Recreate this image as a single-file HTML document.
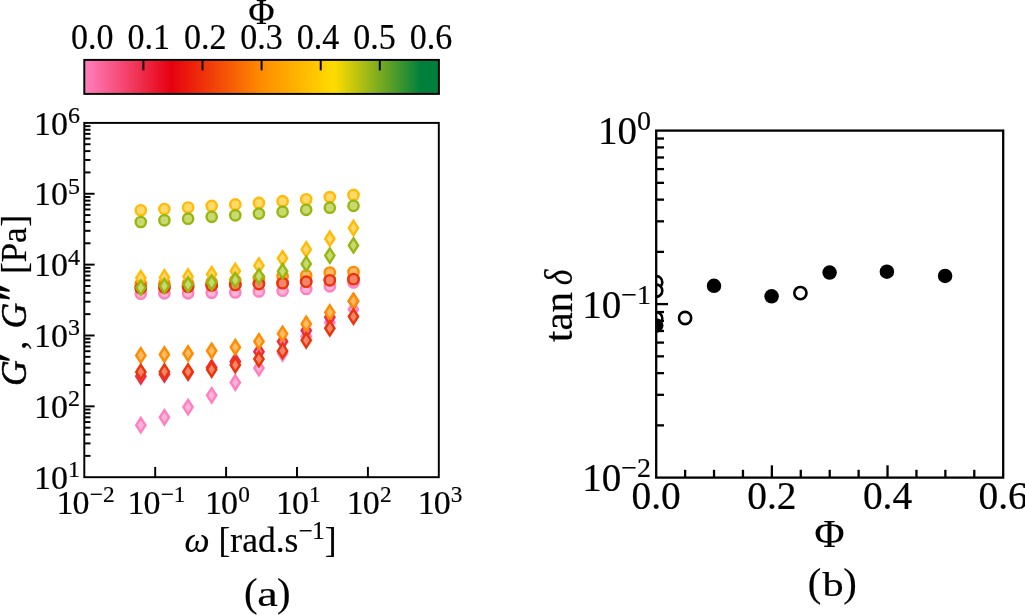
<!DOCTYPE html>
<html lang="en"><head><meta charset="utf-8"><title>Figure</title>
<style>html,body{margin:0;padding:0;background:#fff;overflow:hidden}svg{display:block}text{font-family:"Liberation Serif", "DejaVu Serif", serif;fill:#000;stroke:#000;stroke-width:0.2px}</style>
</head><body>
<svg width="1025" height="615" viewBox="0 0 1025 615">
<rect width="1025" height="615" fill="#fff"/>
<defs><linearGradient id="cm" x1="0" y1="0" x2="1" y2="0">
<stop offset="0" stop-color="#ff80c0"/>
<stop offset="0.245" stop-color="#e6000f"/>
<stop offset="0.5" stop-color="#ff8c00"/>
<stop offset="0.705" stop-color="#ffdc00"/>
<stop offset="0.95" stop-color="#007f3c"/>
<stop offset="1" stop-color="#007f3c"/>
</linearGradient>
<clipPath id="rc"><rect x="656.2" y="130.6" width="347" height="347"/></clipPath>
</defs>
<rect x="84.3" y="59.9" width="354.6" height="34" fill="url(#cm)" stroke="#000" stroke-width="1.95"/>
<text transform="translate(92.25,48.7) scale(0.975,1)" font-size="34.9" text-anchor="middle">0.0</text>
<line x1="143.40" y1="59.9" x2="143.40" y2="70.4" stroke="#000" stroke-width="1.95"/>
<text transform="translate(148.70,48.7) scale(0.975,1)" font-size="34.9" text-anchor="middle">0.1</text>
<line x1="202.50" y1="59.9" x2="202.50" y2="70.4" stroke="#000" stroke-width="1.95"/>
<text transform="translate(205.15,48.7) scale(0.975,1)" font-size="34.9" text-anchor="middle">0.2</text>
<line x1="261.60" y1="59.9" x2="261.60" y2="70.4" stroke="#000" stroke-width="1.95"/>
<text transform="translate(261.60,48.7) scale(0.975,1)" font-size="34.9" text-anchor="middle">0.3</text>
<line x1="320.70" y1="59.9" x2="320.70" y2="70.4" stroke="#000" stroke-width="1.95"/>
<text transform="translate(318.05,48.7) scale(0.975,1)" font-size="34.9" text-anchor="middle">0.4</text>
<line x1="379.80" y1="59.9" x2="379.80" y2="70.4" stroke="#000" stroke-width="1.95"/>
<text transform="translate(374.50,48.7) scale(0.975,1)" font-size="34.9" text-anchor="middle">0.5</text>
<text transform="translate(430.95,48.7) scale(0.975,1)" font-size="34.9" text-anchor="middle">0.6</text>
<text x="261.6" y="23.7" font-size="35.5" text-anchor="middle">Φ</text>
<g fill="#ffb3d9" stroke="#ff80c0" stroke-width="2.4" stroke-linejoin="miter">
<circle cx="140.8" cy="293.7" r="5.15"/>
<circle cx="164.4" cy="293.3" r="5.15"/>
<circle cx="188.1" cy="293.3" r="5.15"/>
<circle cx="211.7" cy="292.8" r="5.15"/>
<circle cx="235.3" cy="292.5" r="5.15"/>
<circle cx="258.9" cy="291.4" r="5.15"/>
<circle cx="282.6" cy="290.7" r="5.15"/>
<circle cx="306.2" cy="288.9" r="5.15"/>
<circle cx="329.8" cy="286.3" r="5.15"/>
<circle cx="353.5" cy="282.4" r="5.15"/>
<path d="M140.8 418.0L145.5 425.2L140.8 432.4L136.2 425.2Z"/>
<path d="M164.4 410.1L169.1 417.3L164.4 424.5L159.8 417.3Z"/>
<path d="M188.1 399.9L192.7 407.1L188.1 414.3L183.4 407.1Z"/>
<path d="M211.7 388.1L216.3 395.3L211.7 402.5L207.0 395.3Z"/>
<path d="M235.3 375.3L240.0 382.5L235.3 389.7L230.7 382.5Z"/>
<path d="M258.9 360.8L263.6 368.0L258.9 375.2L254.3 368.0Z"/>
<path d="M282.6 346.1L287.2 353.3L282.6 360.5L277.9 353.3Z"/>
<path d="M306.2 329.1L310.9 336.3L306.2 343.5L301.6 336.3Z"/>
<path d="M329.8 315.2L334.5 322.4L329.8 329.6L325.2 322.4Z"/>
<path d="M353.5 302.1L358.1 309.3L353.5 316.5L348.8 309.3Z"/>
</g>
<g fill="#f5808f" stroke="#ee2b4c" stroke-width="2.4" stroke-linejoin="miter">
<circle cx="140.8" cy="287.6" r="5.15"/>
<circle cx="164.4" cy="287.0" r="5.15"/>
<circle cx="188.1" cy="286.2" r="5.15"/>
<circle cx="211.7" cy="285.0" r="5.15"/>
<circle cx="235.3" cy="284.3" r="5.15"/>
<circle cx="258.9" cy="283.6" r="5.15"/>
<circle cx="282.6" cy="282.7" r="5.15"/>
<circle cx="306.2" cy="281.2" r="5.15"/>
<circle cx="329.8" cy="279.8" r="5.15"/>
<circle cx="353.5" cy="278.7" r="5.15"/>
<path d="M140.8 369.1L145.5 376.3L140.8 383.5L136.2 376.3Z"/>
<path d="M164.4 367.1L169.1 374.3L164.4 381.5L159.8 374.3Z"/>
<path d="M188.1 365.3L192.7 372.5L188.1 379.7L183.4 372.5Z"/>
<path d="M211.7 360.3L216.3 367.5L211.7 374.7L207.0 367.5Z"/>
<path d="M235.3 354.3L240.0 361.5L235.3 368.7L230.7 361.5Z"/>
<path d="M258.9 344.5L263.6 351.7L258.9 358.9L254.3 351.7Z"/>
<path d="M282.6 334.2L287.2 341.4L282.6 348.6L277.9 341.4Z"/>
<path d="M306.2 323.3L310.9 330.5L306.2 337.7L301.6 330.5Z"/>
<path d="M329.8 310.1L334.5 317.3L329.8 324.5L325.2 317.3Z"/>
<path d="M353.5 294.0L358.1 301.2L353.5 308.4L348.8 301.2Z"/>
</g>
<g fill="#ffba66" stroke="#ff8c00" stroke-width="2.4" stroke-linejoin="miter">
<circle cx="140.8" cy="284.0" r="5.15"/>
<circle cx="164.4" cy="283.8" r="5.15"/>
<circle cx="188.1" cy="283.7" r="5.15"/>
<circle cx="211.7" cy="282.4" r="5.15"/>
<circle cx="235.3" cy="280.5" r="5.15"/>
<circle cx="258.9" cy="278.0" r="5.15"/>
<circle cx="282.6" cy="276.3" r="5.15"/>
<circle cx="306.2" cy="275.4" r="5.15"/>
<circle cx="329.8" cy="272.5" r="5.15"/>
<circle cx="353.5" cy="272.0" r="5.15"/>
<path d="M140.8 348.2L145.5 355.4L140.8 362.6L136.2 355.4Z"/>
<path d="M164.4 347.3L169.1 354.5L164.4 361.7L159.8 354.5Z"/>
<path d="M188.1 346.3L192.7 353.5L188.1 360.7L183.4 353.5Z"/>
<path d="M211.7 343.6L216.3 350.8L211.7 358.0L207.0 350.8Z"/>
<path d="M235.3 340.0L240.0 347.2L235.3 354.4L230.7 347.2Z"/>
<path d="M258.9 334.2L263.6 341.4L258.9 348.6L254.3 341.4Z"/>
<path d="M282.6 326.6L287.2 333.8L282.6 341.0L277.9 333.8Z"/>
<path d="M306.2 316.7L310.9 323.9L306.2 331.1L301.6 323.9Z"/>
<path d="M329.8 305.3L334.5 312.5L329.8 319.7L325.2 312.5Z"/>
<path d="M353.5 293.8L358.1 301.0L353.5 308.2L348.8 301.0Z"/>
</g>
<g fill="#f3856b" stroke="#ec3409" stroke-width="2.4" stroke-linejoin="miter">
<circle cx="140.8" cy="288.2" r="5.15"/>
<circle cx="164.4" cy="287.5" r="5.15"/>
<circle cx="188.1" cy="286.7" r="5.15"/>
<circle cx="211.7" cy="285.5" r="5.15"/>
<circle cx="235.3" cy="284.9" r="5.15"/>
<circle cx="258.9" cy="284.1" r="5.15"/>
<circle cx="282.6" cy="283.2" r="5.15"/>
<circle cx="306.2" cy="281.7" r="5.15"/>
<circle cx="329.8" cy="280.3" r="5.15"/>
<circle cx="353.5" cy="279.2" r="5.15"/>
<path d="M140.8 364.8L145.5 372.0L140.8 379.2L136.2 372.0Z"/>
<path d="M164.4 364.5L169.1 371.7L164.4 378.9L159.8 371.7Z"/>
<path d="M188.1 364.4L192.7 371.6L188.1 378.8L183.4 371.6Z"/>
<path d="M211.7 362.3L216.3 369.5L211.7 376.7L207.0 369.5Z"/>
<path d="M235.3 357.8L240.0 365.0L235.3 372.2L230.7 365.0Z"/>
<path d="M258.9 351.8L263.6 359.0L258.9 366.2L254.3 359.0Z"/>
<path d="M282.6 343.7L287.2 350.9L282.6 358.1L277.9 350.9Z"/>
<path d="M306.2 333.1L310.9 340.3L306.2 347.5L301.6 340.3Z"/>
<path d="M329.8 321.1L334.5 328.3L329.8 335.5L325.2 328.3Z"/>
<path d="M353.5 309.4L358.1 316.6L353.5 323.8L348.8 316.6Z"/>
</g>
<g fill="#ffd96a" stroke="#ffbb08" stroke-width="2.4" stroke-linejoin="miter">
<circle cx="140.8" cy="210.3" r="5.15"/>
<circle cx="164.4" cy="209.0" r="5.15"/>
<circle cx="188.1" cy="207.5" r="5.15"/>
<circle cx="211.7" cy="205.9" r="5.15"/>
<circle cx="235.3" cy="204.4" r="5.15"/>
<circle cx="258.9" cy="202.9" r="5.15"/>
<circle cx="282.6" cy="201.2" r="5.15"/>
<circle cx="306.2" cy="199.3" r="5.15"/>
<circle cx="329.8" cy="197.1" r="5.15"/>
<circle cx="353.5" cy="194.9" r="5.15"/>
<path d="M140.8 270.9L145.5 278.1L140.8 285.3L136.2 278.1Z"/>
<path d="M164.4 270.2L169.1 277.4L164.4 284.6L159.8 277.4Z"/>
<path d="M188.1 269.3L192.7 276.5L188.1 283.7L183.4 276.5Z"/>
<path d="M211.7 267.0L216.3 274.2L211.7 281.4L207.0 274.2Z"/>
<path d="M235.3 263.8L240.0 271.0L235.3 278.2L230.7 271.0Z"/>
<path d="M258.9 258.4L263.6 265.6L258.9 272.8L254.3 265.6Z"/>
<path d="M282.6 251.1L287.2 258.3L282.6 265.5L277.9 258.3Z"/>
<path d="M306.2 242.2L310.9 249.4L306.2 256.6L301.6 249.4Z"/>
<path d="M329.8 231.5L334.5 238.7L329.8 245.9L325.2 238.7Z"/>
<path d="M353.5 220.8L358.1 228.0L353.5 235.2L348.8 228.0Z"/>
</g>
<g fill="#c7d970" stroke="#97b610" stroke-width="2.4" stroke-linejoin="miter">
<circle cx="140.8" cy="222.0" r="5.15"/>
<circle cx="164.4" cy="220.3" r="5.15"/>
<circle cx="188.1" cy="218.7" r="5.15"/>
<circle cx="211.7" cy="216.8" r="5.15"/>
<circle cx="235.3" cy="215.3" r="5.15"/>
<circle cx="258.9" cy="213.6" r="5.15"/>
<circle cx="282.6" cy="211.7" r="5.15"/>
<circle cx="306.2" cy="209.8" r="5.15"/>
<circle cx="329.8" cy="207.7" r="5.15"/>
<circle cx="353.5" cy="205.8" r="5.15"/>
<path d="M140.8 280.5L145.5 287.7L140.8 294.9L136.2 287.7Z"/>
<path d="M164.4 278.8L169.1 286.0L164.4 293.2L159.8 286.0Z"/>
<path d="M188.1 277.4L192.7 284.6L188.1 291.8L183.4 284.6Z"/>
<path d="M211.7 275.3L216.3 282.5L211.7 289.7L207.0 282.5Z"/>
<path d="M235.3 272.8L240.0 280.0L235.3 287.2L230.7 280.0Z"/>
<path d="M258.9 269.1L263.6 276.3L258.9 283.5L254.3 276.3Z"/>
<path d="M282.6 264.0L287.2 271.2L282.6 278.4L277.9 271.2Z"/>
<path d="M306.2 256.7L310.9 263.9L306.2 271.1L301.6 263.9Z"/>
<path d="M329.8 248.4L334.5 255.6L329.8 262.8L325.2 255.6Z"/>
<path d="M353.5 238.2L358.1 245.4L353.5 252.6L348.8 245.4Z"/>
</g>
<g stroke="#000" stroke-width="1.95" fill="none">
<rect x="84.3" y="122.9" width="354.5" height="354.3"/>
<line x1="155.20" y1="477.2" x2="155.20" y2="466.9"/>
<line x1="226.10" y1="477.2" x2="226.10" y2="466.9"/>
<line x1="297.00" y1="477.2" x2="297.00" y2="466.9"/>
<line x1="367.90" y1="477.2" x2="367.90" y2="466.9"/>
<line x1="84.3" y1="455.87" x2="90.5" y2="455.87"/>
<line x1="84.3" y1="443.39" x2="90.5" y2="443.39"/>
<line x1="84.3" y1="434.54" x2="90.5" y2="434.54"/>
<line x1="84.3" y1="427.67" x2="90.5" y2="427.67"/>
<line x1="84.3" y1="422.06" x2="90.5" y2="422.06"/>
<line x1="84.3" y1="417.32" x2="90.5" y2="417.32"/>
<line x1="84.3" y1="413.21" x2="90.5" y2="413.21"/>
<line x1="84.3" y1="409.58" x2="90.5" y2="409.58"/>
<line x1="84.3" y1="406.34" x2="94.6" y2="406.34"/>
<line x1="84.3" y1="385.01" x2="90.5" y2="385.01"/>
<line x1="84.3" y1="372.53" x2="90.5" y2="372.53"/>
<line x1="84.3" y1="363.68" x2="90.5" y2="363.68"/>
<line x1="84.3" y1="356.81" x2="90.5" y2="356.81"/>
<line x1="84.3" y1="351.20" x2="90.5" y2="351.20"/>
<line x1="84.3" y1="346.46" x2="90.5" y2="346.46"/>
<line x1="84.3" y1="342.35" x2="90.5" y2="342.35"/>
<line x1="84.3" y1="338.72" x2="90.5" y2="338.72"/>
<line x1="84.3" y1="335.48" x2="94.6" y2="335.48"/>
<line x1="84.3" y1="314.15" x2="90.5" y2="314.15"/>
<line x1="84.3" y1="301.67" x2="90.5" y2="301.67"/>
<line x1="84.3" y1="292.82" x2="90.5" y2="292.82"/>
<line x1="84.3" y1="285.95" x2="90.5" y2="285.95"/>
<line x1="84.3" y1="280.34" x2="90.5" y2="280.34"/>
<line x1="84.3" y1="275.60" x2="90.5" y2="275.60"/>
<line x1="84.3" y1="271.49" x2="90.5" y2="271.49"/>
<line x1="84.3" y1="267.86" x2="90.5" y2="267.86"/>
<line x1="84.3" y1="264.62" x2="94.6" y2="264.62"/>
<line x1="84.3" y1="243.29" x2="90.5" y2="243.29"/>
<line x1="84.3" y1="230.81" x2="90.5" y2="230.81"/>
<line x1="84.3" y1="221.96" x2="90.5" y2="221.96"/>
<line x1="84.3" y1="215.09" x2="90.5" y2="215.09"/>
<line x1="84.3" y1="209.48" x2="90.5" y2="209.48"/>
<line x1="84.3" y1="204.74" x2="90.5" y2="204.74"/>
<line x1="84.3" y1="200.63" x2="90.5" y2="200.63"/>
<line x1="84.3" y1="197.00" x2="90.5" y2="197.00"/>
<line x1="84.3" y1="193.76" x2="94.6" y2="193.76"/>
<line x1="84.3" y1="172.43" x2="90.5" y2="172.43"/>
<line x1="84.3" y1="159.95" x2="90.5" y2="159.95"/>
<line x1="84.3" y1="151.10" x2="90.5" y2="151.10"/>
<line x1="84.3" y1="144.23" x2="90.5" y2="144.23"/>
<line x1="84.3" y1="138.62" x2="90.5" y2="138.62"/>
<line x1="84.3" y1="133.88" x2="90.5" y2="133.88"/>
<line x1="84.3" y1="129.77" x2="90.5" y2="129.77"/>
<line x1="84.3" y1="126.14" x2="90.5" y2="126.14"/>
</g>
<text transform="translate(79.90,488.90) scale(1,1)" font-size="34" text-anchor="end"><tspan letter-spacing="0">1</tspan>0<tspan font-size="24" dy="-11.7" dx="0">1</tspan></text>
<text transform="translate(79.90,418.04) scale(1,1)" font-size="34" text-anchor="end"><tspan letter-spacing="0">1</tspan>0<tspan font-size="24" dy="-11.7" dx="0">2</tspan></text>
<text transform="translate(79.90,347.18) scale(1,1)" font-size="34" text-anchor="end"><tspan letter-spacing="0">1</tspan>0<tspan font-size="24" dy="-11.7" dx="0">3</tspan></text>
<text transform="translate(79.90,276.32) scale(1,1)" font-size="34" text-anchor="end"><tspan letter-spacing="0">1</tspan>0<tspan font-size="24" dy="-11.7" dx="0">4</tspan></text>
<text transform="translate(79.90,205.46) scale(1,1)" font-size="34" text-anchor="end"><tspan letter-spacing="0">1</tspan>0<tspan font-size="24" dy="-11.7" dx="0">5</tspan></text>
<text transform="translate(79.90,134.60) scale(1,1)" font-size="34" text-anchor="end"><tspan letter-spacing="0">1</tspan>0<tspan font-size="24" dy="-11.7" dx="0">6</tspan></text>
<text transform="translate(85.60,514.10) scale(1,1)" font-size="34" text-anchor="middle"><tspan letter-spacing="-1">1</tspan>0<tspan font-size="23.3" dy="-12.3" dx="0.2">−2</tspan></text>
<text transform="translate(156.50,514.10) scale(1,1)" font-size="34" text-anchor="middle"><tspan letter-spacing="-1">1</tspan>0<tspan font-size="23.3" dy="-12.3" dx="0.2">−1</tspan></text>
<text transform="translate(227.40,514.10) scale(1,1)" font-size="34" text-anchor="middle"><tspan letter-spacing="-1">1</tspan>0<tspan font-size="23.3" dy="-12.3" dx="0.2">0</tspan></text>
<text transform="translate(298.30,514.10) scale(1,1)" font-size="34" text-anchor="middle"><tspan letter-spacing="-1">1</tspan>0<tspan font-size="23.3" dy="-12.3" dx="0.2">1</tspan></text>
<text transform="translate(369.20,514.10) scale(1,1)" font-size="34" text-anchor="middle"><tspan letter-spacing="-1">1</tspan>0<tspan font-size="23.3" dy="-12.3" dx="0.2">2</tspan></text>
<text transform="translate(440.10,514.10) scale(1,1)" font-size="34" text-anchor="middle"><tspan letter-spacing="-1">1</tspan>0<tspan font-size="23.3" dy="-12.3" dx="0.2">3</tspan></text>
<text x="260.6" y="551.8" font-size="35.5" text-anchor="middle"><tspan font-style="italic">ω</tspan> [rad.s<tspan font-size="24.8" dy="-13">−1</tspan><tspan dy="13">]</tspan></text>
<g transform="translate(25.7,300) rotate(-90)" font-size="35.5" text-anchor="start"><text><tspan x="-86.1" font-style="italic" stroke="#000" stroke-width="0.5">G</tspan><tspan x="-49.7">,</tspan><tspan x="-28.4" font-style="italic" stroke="#000" stroke-width="0.5">G</tspan><tspan x="26.0">[</tspan><tspan x="37.4">P</tspan><tspan x="57">a</tspan><tspan x="73.2">]</tspan></text>
<text transform="translate(-66.6,2.3) scale(1.2,1)" font-size="44" font-style="italic" stroke="none">′</text>
<text transform="translate(-5.1,2.3) scale(1.2,1)" font-size="44" font-style="italic" stroke="none">′</text>
<text transform="translate(2.4,2.3) scale(1.2,1)" font-size="44" font-style="italic" stroke="none">′</text>
</g>
<text x="244.05" y="605.8" font-size="40.7" stroke="none">(</text><text transform="translate(257.3,605.7) scale(1.27,1)" font-size="36.5" stroke="none">a</text><text x="277.1" y="605.8" font-size="40.7" stroke="none">)</text>
<g clip-path="url(#rc)">
<circle cx="656.2" cy="282.2" r="6.1" fill="#fff" stroke="#000" stroke-width="2.6"/>
<circle cx="656.2" cy="290.7" r="6.1" fill="#fff" stroke="#000" stroke-width="2.6"/>
<circle cx="656.2" cy="318.3" r="6.1" fill="#fff" stroke="#000" stroke-width="2.6"/>
<circle cx="685.1" cy="318.0" r="6.1" fill="#fff" stroke="#000" stroke-width="2.6"/>
<circle cx="800.4" cy="293.1" r="6.1" fill="#fff" stroke="#000" stroke-width="2.6"/>
<circle cx="656.2" cy="325.6" r="7.25" fill="#000"/>
<circle cx="714.0" cy="285.8" r="7.25" fill="#000"/>
<circle cx="771.6" cy="296.3" r="7.25" fill="#000"/>
<circle cx="829.6" cy="272.6" r="7.25" fill="#000"/>
<circle cx="886.9" cy="271.7" r="7.25" fill="#000"/>
<circle cx="945.1" cy="275.9" r="7.25" fill="#000"/>
</g>
<g stroke="#000" stroke-width="2.3" fill="none">
<rect x="656.2" y="130.6" width="347" height="347"/>
<line x1="685.12" y1="477.6" x2="685.12" y2="469.8"/>
<line x1="714.03" y1="477.6" x2="714.03" y2="469.8"/>
<line x1="742.95" y1="477.6" x2="742.95" y2="469.8"/>
<line x1="771.87" y1="477.6" x2="771.87" y2="465.3"/>
<line x1="800.78" y1="477.6" x2="800.78" y2="469.8"/>
<line x1="829.70" y1="477.6" x2="829.70" y2="469.8"/>
<line x1="858.62" y1="477.6" x2="858.62" y2="469.8"/>
<line x1="887.53" y1="477.6" x2="887.53" y2="465.3"/>
<line x1="916.45" y1="477.6" x2="916.45" y2="469.8"/>
<line x1="945.37" y1="477.6" x2="945.37" y2="469.8"/>
<line x1="974.28" y1="477.6" x2="974.28" y2="469.8"/>
<line x1="656.2" y1="425.37" x2="664" y2="425.37"/>
<line x1="656.2" y1="394.82" x2="664" y2="394.82"/>
<line x1="656.2" y1="373.14" x2="664" y2="373.14"/>
<line x1="656.2" y1="356.33" x2="664" y2="356.33"/>
<line x1="656.2" y1="342.59" x2="664" y2="342.59"/>
<line x1="656.2" y1="330.98" x2="664" y2="330.98"/>
<line x1="656.2" y1="320.91" x2="664" y2="320.91"/>
<line x1="656.2" y1="312.04" x2="664" y2="312.04"/>
<line x1="656.2" y1="304.10" x2="668" y2="304.10"/>
<line x1="656.2" y1="251.87" x2="664" y2="251.87"/>
<line x1="656.2" y1="221.32" x2="664" y2="221.32"/>
<line x1="656.2" y1="199.64" x2="664" y2="199.64"/>
<line x1="656.2" y1="182.83" x2="664" y2="182.83"/>
<line x1="656.2" y1="169.09" x2="664" y2="169.09"/>
<line x1="656.2" y1="157.48" x2="664" y2="157.48"/>
<line x1="656.2" y1="147.41" x2="664" y2="147.41"/>
<line x1="656.2" y1="138.54" x2="664" y2="138.54"/>
</g>
<text transform="translate(651.00,491.20) scale(1,1)" font-size="39" text-anchor="end"><tspan letter-spacing="0">1</tspan>0<tspan font-size="28" dy="-13.8" dx="0">−2</tspan></text>
<text transform="translate(651.00,317.70) scale(1,1)" font-size="39" text-anchor="end"><tspan letter-spacing="0">1</tspan>0<tspan font-size="28" dy="-13.8" dx="0">−1</tspan></text>
<text transform="translate(651.00,144.20) scale(1,1)" font-size="39" text-anchor="end"><tspan letter-spacing="0">1</tspan>0<tspan font-size="28" dy="-13.8" dx="0">0</tspan></text>
<text transform="translate(656.20,508.7) scale(1,1)" font-size="39.4" text-anchor="middle">0.0</text>
<text transform="translate(771.87,508.7) scale(1,1)" font-size="39.4" text-anchor="middle">0.2</text>
<text transform="translate(887.53,508.7) scale(1,1)" font-size="39.4" text-anchor="middle">0.4</text>
<text transform="translate(1003.20,508.7) scale(1,1)" font-size="39.4" text-anchor="middle">0.6</text>
<text x="829.5" y="546.7" font-size="41" text-anchor="middle">Φ</text>
<g transform="translate(572.4,304.2) rotate(-90)" font-size="41"><text x="-37.8" y="0" text-anchor="start">tan</text><text transform="translate(18.9,0) scale(0.82,1)" font-style="italic">δ</text></g>
<text x="807.8" y="596.2" font-size="40.7" stroke="none">(</text><text transform="translate(822.6,595.9) scale(1.22,1)" font-size="34.7" stroke="none">b</text><text x="843.2" y="596.2" font-size="40.7" stroke="none">)</text>
</svg></body></html>
